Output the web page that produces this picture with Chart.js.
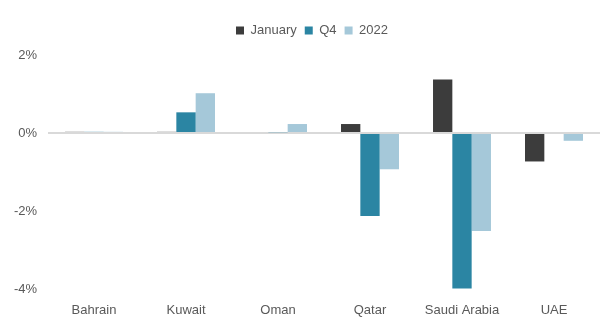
<!DOCTYPE html>
<html>
<head>
<meta charset="utf-8">
<script src="https://cdn.jsdelivr.net/npm/chart.js@4"></script>
<style>
  html, body { margin: 0; padding: 0; background: #fff; }
  #wrap { width: 609px; height: 329px; }
</style>
</head>
<body>
<div id="wrap"><canvas id="chart" width="609" height="329"></canvas></div>
<script>
const countries = ["Bahrain", "Kuwait", "Oman", "Qatar", "Saudi Arabia", "UAE"];
const january = [0.03, 0.03, 0, 0.23, 1.37, -0.73];
const q4 = [0.03, 0.53, 0.02, -2.13, -3.99, 0];
const y2022 = [0.03, 1.02, 0.23, -0.93, -2.51, -0.2];
const yTicks = [-4, -2, 0, 2];

const font = { family: "'Liberation Sans Narrow', 'Arial Narrow', Arial, sans-serif", size: 13 };

// push the plot down below the legend, and nudge the legend right
const legendGap = {
    id: "legendGap",
    beforeInit(chart) {
        const lg = chart.legend;
        const fit = lg.fit;
        lg.fit = function () {
            fit.bind(lg)();
            this.height += 8;
        };
        const draw = lg.draw;
        lg.draw = function () {
            const c = chart.ctx;
            c.save();
            c.translate(12, 0);
            draw.bind(lg)();
            c.restore();
        };
    }
};

const ctx = document.getElementById("chart").getContext("2d");
const chart = new Chart(ctx, {
    type: "bar",
    data: {
        labels: countries,
        datasets: [
            { label: "January", data: january, backgroundColor: "#3c3c3c" },
            { label: "Q4", data: q4, backgroundColor: "#2b85a3" },
            { label: "2022", data: y2022, backgroundColor: "#a5c8d9" }
        ]
    },
    plugins: [legendGap],
    options: {
        responsive: false,
        animation: false,
        layout: { padding: { left: 0, right: 9, top: 16, bottom: 0 } },
        datasets: { bar: { categoryPercentage: 0.63, barPercentage: 1.0 } },
        plugins: {
            legend: {
                position: "top",
                labels: {
                    font: font,
                    color: "#595959",
                    boxWidth: 8,
                    boxHeight: 8,
                    padding: 8
                }
            },
            tooltip: { enabled: false }
        },
        scales: {
            x: {
                afterFit: axis => { axis.height = 40; },
                grid: { display: false },
                border: { display: false },
                ticks: { font: font, color: "#595959", padding: 6, maxRotation: 0 }
            },
            y: {
                min: -4,
                max: 2,
                afterBuildTicks: axis => { axis.ticks = yTicks.map(v => ({ value: v })); },
                afterFit: axis => { axis.width = 48; },
                grid: {
                    drawTicks: false,
                    color: c => c.tick && c.tick.value === 0 ? "#d9d9d9" : "rgba(0,0,0,0)",
                    lineWidth: 2
                },
                border: { display: false },
                ticks: {
                    font: font,
                    color: "#595959",
                    padding: 11,
                    callback: v => v + "%"
                }
            }
        }
    }
});
</script>
</body>
</html>
